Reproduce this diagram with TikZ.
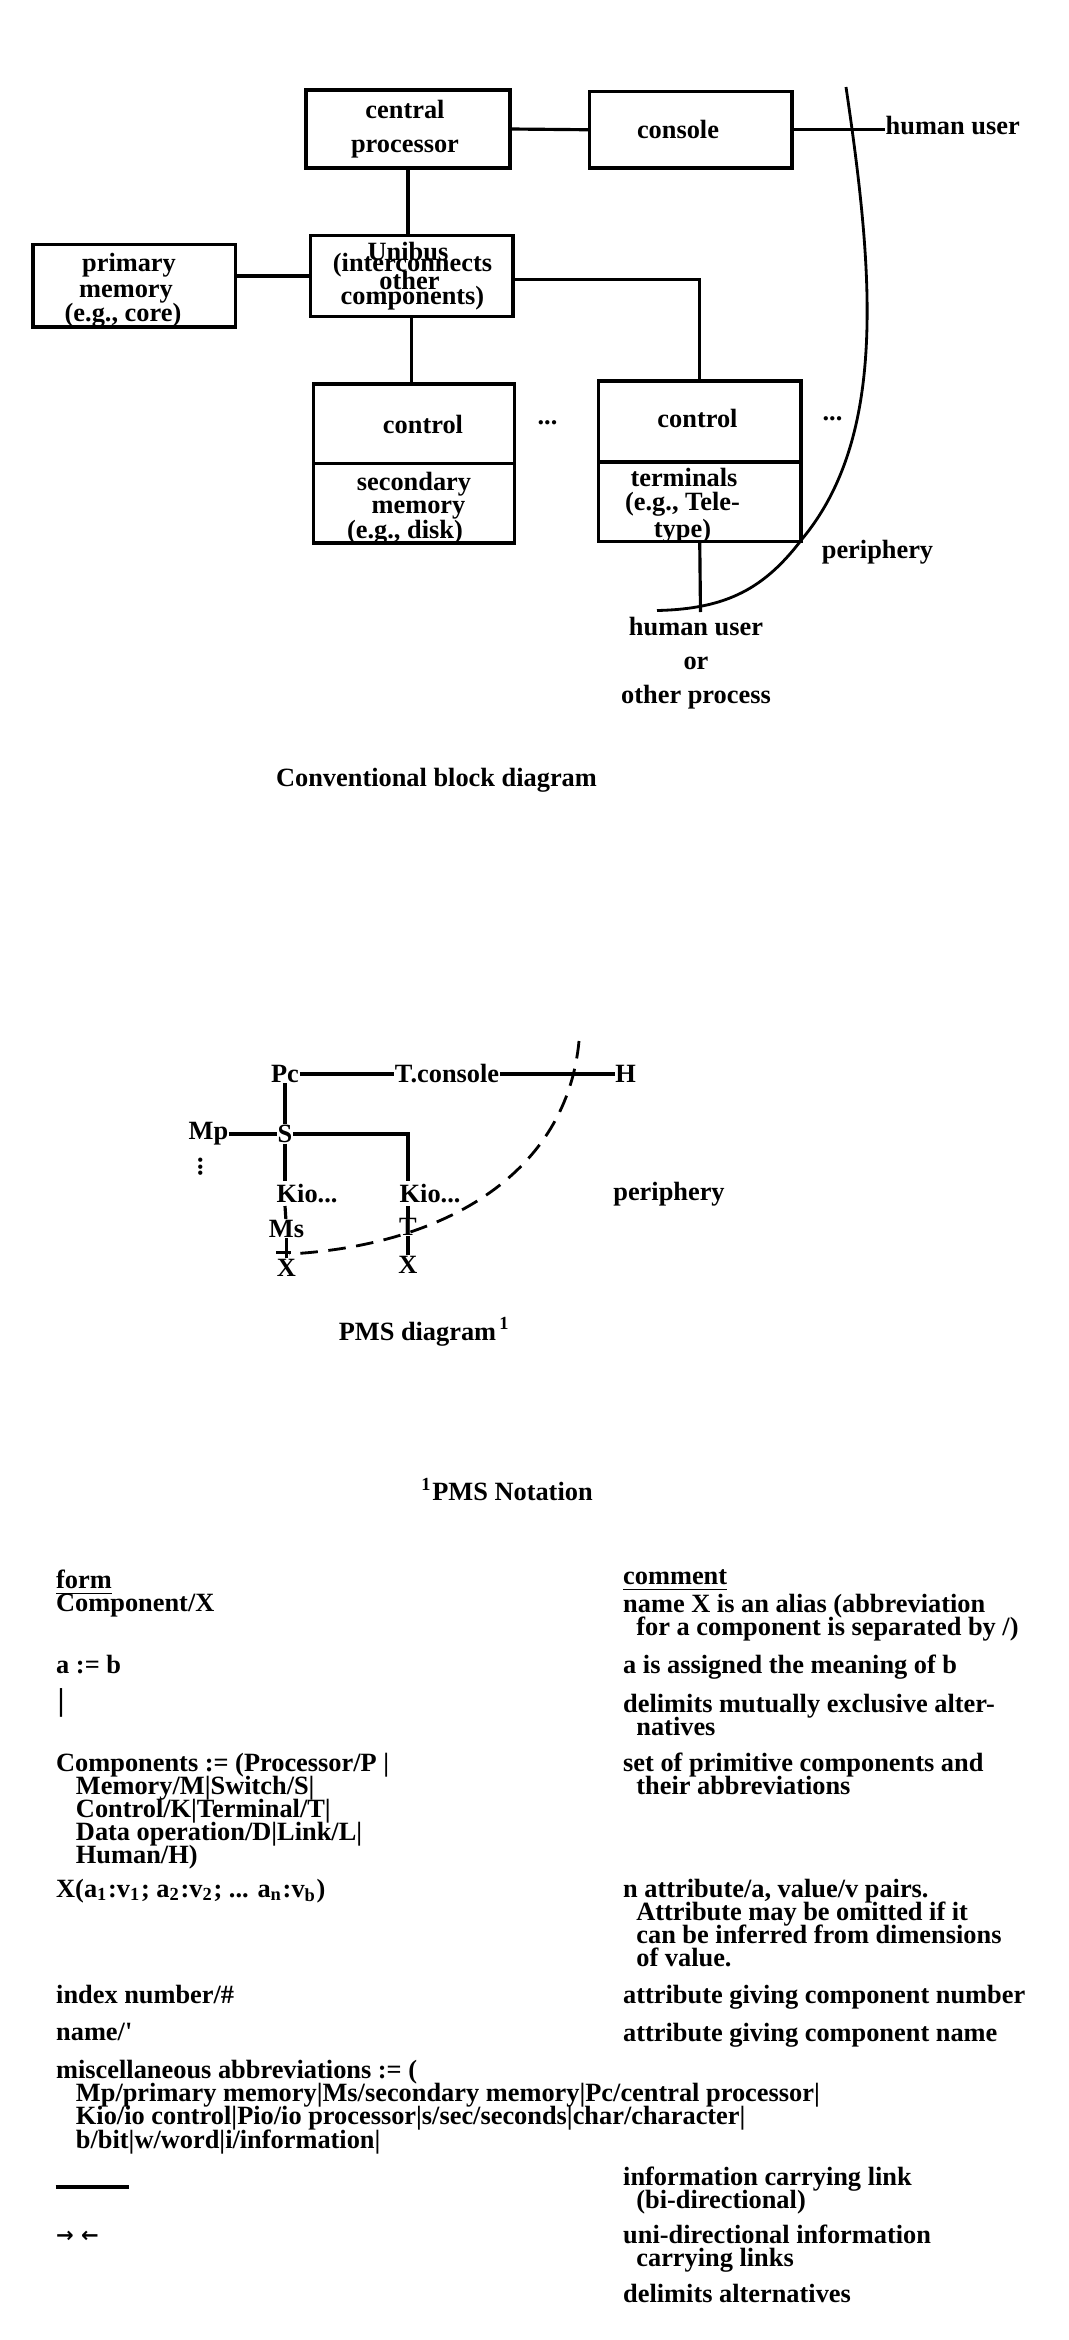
\documentclass[tikz,border=0pt]{standalone}
\usepackage{fontspec}
\setmainfont{Liberation Serif}
\newfontfamily\dvs{DejaVu Sans}
\newcommand\tf{\fontsize{7.5}{6.6}\selectfont\bfseries\lineskiplimit=-20pt\relax}
\begin{document}
\begin{tikzpicture}[x=0.015cm,y=-0.015cm,
  bx/.style={draw,line width=0.9pt,inner sep=0pt},
  t/.style={font=\tf,inner sep=0pt,align=center},
  tl/.style={font=\tf,inner sep=0pt,anchor=north west,align=left},
  ln/.style={line width=0.9pt}]
\useasboundingbox[fill=white] (0,0) rectangle (712,1560);
% ---------- conventional block diagram
\node[bx,minimum width=2.04cm,minimum height=0.78cm] (cp) at (272,86) {};
\node[bx,minimum width=2.025cm,minimum height=0.765cm] (con) at (460.5,86.5) {};
\node[bx,minimum width=2.025cm,minimum height=0.81cm] (ub) at (274.5,184) {};
\node[bx,minimum width=2.025cm,minimum height=0.825cm] (pm) at (89.5,190.5) {};
\node[bx,minimum width=2.01cm,minimum height=0.795cm] (c1) at (276,282.5) {};
\node[bx,minimum width=2.01cm,minimum height=0.795cm] (sm) at (276,335.5) {};
\node[bx,minimum width=2.025cm,minimum height=0.81cm] (c2) at (466.5,281) {};
\node[bx,minimum width=2.025cm,minimum height=0.795cm] (tm) at (466.5,334.5) {};
\node[t] (cpt) at (270,86) {central\\[3pt]processor};
\node[t] (cont) at (452,86) {console};
\node[t] (u1) at (272,168) {Unibus};
\node[t] (u2) at (275,177) {(interconnects};
\node[t] (u3) at (273,187) {other};
\node[t] (u4) at (275,199) {components)};
\node[t] (p1) at (86,177) {primary};
\node[t] (p2) at (84,196) {memory};
\node[t] (p3) at (82,210) {(e.g., core)};
\node[t] (c1t) at (282,283) {control};
\node[t] (c2t) at (465,279) {control};
\node[t] (s1) at (276,323) {secondary};
\node[t] (s2) at (279,340) {memory};
\node[t] (s3) at (270,355) {(e.g., disk)};
\node[t] (t1) at (456,318) {terminals};
\node[t] (t2) at (455,336) {(e.g., Tele-};
\node[t] (t3) at (455,354) {type)};
\node[t] (d1) at (365,282) {...};
\node[t] (d2) at (555,279) {...};
\node[t,anchor=west] (hu) at (590,84) {human user};
\node[t] (per) at (585,368) {periphery};
\node[t] (hb) at (464,442) {human user\\[3pt]or\\[3pt]other process};
\node[t] (cap1) at (291,520) {Conventional block diagram};
\draw[ln] (cp.east) -- (con.west);
\draw[ln] (con.east) -- (con.east -| hu.west);
\draw[ln] (cp.south) -- (cp.south |- ub.north);
\draw[ln] (ub.west) -- (ub.west -| pm.east);
\draw[ln] (ub.south) -- (ub.south |- c1.north);
\draw[ln] ([yshift=-1pt]ub.east) -| (c2.north);
\coordinate (hbot) at (467,408);
\draw[ln] (tm.south) -- (hbot);
\coordinate (ctop) at (564,58);
\coordinate (cend) at (438,407);
\draw[line width=0.8pt] (ctop) .. controls (582,180) and (592,290) .. (535,359)
   .. controls (510,392) and (485,406) .. (cend);
% ---------- PMS diagram
\node[t] (pc) at (190,716) {Pc};
\node[t] (tc) at (298,716) {T.console};
\node[t] (H) at (417,716) {H};
\node[t] (mp) at (139,756) {Mp};
\node[t] (S) at (190,756) {S};
\node[t] (vd) at (134,778) {\rotatebox{90}{...}};
\node[t,anchor=west] (k1) at (184,796) {Kio...};
\node[t,anchor=west] (k2) at (266,796) {Kio...};
\node[t] (ms) at (191,819) {Ms};
\node[t] (T) at (272,818) {T};
\node[t] (x1) at (191,845) {X};
\node[t] (x2) at (272,843) {X};
\node[t] (per2) at (446,796) {periphery};
\node[t] (cap2) at (283,888) {PMS diagram\textsuperscript{\,1}};
\draw[ln] (pc) -- (S);
\draw[ln] (pc) -- (tc);
\draw[ln] (tc) -- (H);
\draw[ln] (mp) -- (S);
\coordinate (k1top) at (190,787);
\coordinate (k1bot) at (190,804);
\coordinate (k2top) at (272,787);
\coordinate (k2bot) at (272,804);
\draw[ln] (S) -- (k1top);
\draw[ln] (S.east) -| (k2top);
\draw[ln] (k1bot) -- (ms);
\draw[ln] (k2bot) -- (T);
\draw[ln] (ms) -- (x1);
\draw[ln] (T) -- (x2);
\coordinate (tick) at (184,835);
\draw[ln] (tick) -- ++(10,0);
\coordinate (dtop) at (386,694);
\coordinate (dend) at (193,836);
\draw[line width=0.8pt,dash pattern=on 5pt off 3pt] (dtop) .. controls (378,780) and (300,830) .. (dend);
% ---------- notation
\node[t] (cap3) at (338,993) {\textsuperscript{1}PMS Notation};
\node[tl] (f0) at (37,1046) {\underline{form}};
\node[tl] (c0) at (415,1046) {\underline{comment}};
\node[tl] (f1) at (37,1062) {Component/X};
\node[tl] (c1a) at (415,1062) {name X is an alias (abbreviation\\\ \ for a component is separated by /)};
\node[tl] (f2) at (37,1103) {a := b};
\node[tl,font=\fontsize{9}{9}\selectfont\bfseries] (f3) at (38,1125) {|};
\node[tl] (c2a) at (415,1103) {a is assigned the meaning of b};
\node[tl] (c3a) at (415,1129) {delimits mutually exclusive alter-\\\ \ natives};
\node[tl] (f4) at (37,1168) {Components := (Processor/P |\\\ \ \ Memory/M|Switch/S|\\\ \ \ Control/K|Terminal/T|\\\ \ \ Data operation/D|Link/L|\\\ \ \ Human/H)};
\node[tl] (c4a) at (415,1168) {set of primitive components and\\\ \ their abbreviations};
\node[tl] (f5) at (37,1252) {X(a\textsubscript{1}:v\textsubscript{1}; a\textsubscript{2}:v\textsubscript{2}; ... a\textsubscript{n}:v\textsubscript{b})};
\node[tl] (c5a) at (415,1252) {n attribute/a, value/v pairs.\\\ \ Attribute may be omitted if it\\\ \ can be inferred from dimensions\\\ \ of value.};
\node[tl] (f6) at (37,1323) {index number/\#};
\node[tl] (c6a) at (415,1323) {attribute giving component number};
\node[tl] (f7) at (37,1348) {name/\textquotesingle};
\node[tl] (c7a) at (415,1348) {attribute giving component name};
\node[tl] (f8) at (37,1373) {miscellaneous abbreviations := (\\\ \ \ Mp/primary memory|Ms/secondary memory|Pc/central processor|\\\ \ \ Kio/io control|Pio/io processor|s/sec/seconds|char/character|\\\ \ \ b/bit|w/word|i/information|};
\coordinate (la) at (37,1458);
\coordinate (lb) at (86,1458);
\draw[ln] (la) -- (lb);
\node[tl] (c9a) at (415,1444) {information carrying link\\\ \ (bi-directional)};
\node[tl,font=\dvs\fontsize{6}{6}\selectfont\bfseries] (f10) at (37,1487) {→ ←};
\node[tl] (c10a) at (415,1483) {uni-directional information\\\ \ carrying links};
\node[tl] (c11a) at (415,1522) {delimits alternatives};
\end{tikzpicture}
\end{document}
